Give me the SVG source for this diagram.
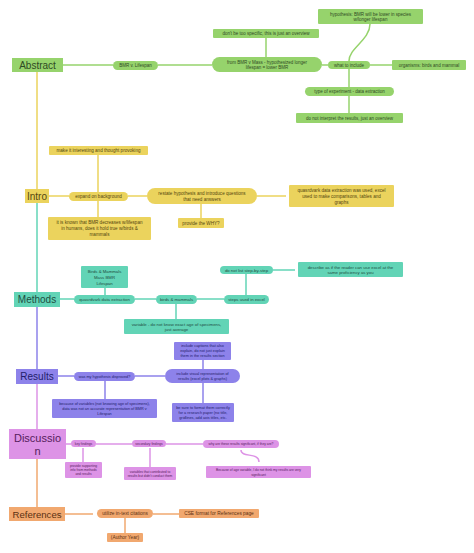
<svg xmlns="http://www.w3.org/2000/svg" width="474" height="553" viewBox="0 0 474 553">
<style>
text{font-family:"Liberation Sans",Arial,sans-serif;text-anchor:middle;dominant-baseline:central}
.m{font-size:10px}
.g text.s{font-size:4.5px}.y text.s{font-size:4.6px}.t text.s{font-size:4.3px}.p text.s{font-size:3.8px}.k text.s{font-size:3.3px}.o text.s{font-size:4.8px}
.g rect{fill:#96d36c}.g text{fill:#2f4a24}
.y rect{fill:#ebd35d}.y text{fill:#54470f}
.t rect{fill:#62d4b6}.t text{fill:#1f4d42}
.p rect{fill:#8d82ea}.p text{fill:#241e6b}
.k rect{fill:#dd93e6}.k text{fill:#55205c}
.o rect{fill:#f1a86f}.o text{fill:#5c3112}
.c line,.c path{stroke-width:1.5;fill:none}
.cg{stroke:#96d36c}.cy{stroke:#ebd35d}.ct{stroke:#62d4b6}.cp{stroke:#8d82ea}.ck{stroke:#dd93e6}.co{stroke:#f1a86f}
</style>
<g id="connectors" class="c">
<line class="cy" x1="37" y1="72" x2="37" y2="189"/>
<line class="ct" x1="37" y1="203" x2="37" y2="292"/>
<line class="cp" x1="37" y1="307" x2="37" y2="369"/>
<line class="ck" x1="37" y1="384" x2="37" y2="429"/>
<line class="co" x1="37" y1="459" x2="37" y2="507"/>
<line class="cg" x1="63" y1="65" x2="113" y2="65"/>
<line class="cg" x1="158" y1="65" x2="212" y2="65"/>
<line class="cg" x1="266" y1="38" x2="266" y2="57"/>
<line class="cg" x1="322" y1="65" x2="328" y2="65"/>
<line class="cg" x1="370" y1="65" x2="392" y2="65"/>
<path class="cg" d="M349 61 C349 48 370 40 370 24"/>
<line class="cg" x1="349" y1="69" x2="349" y2="87"/>
<line class="cg" x1="349" y1="96" x2="349" y2="113"/>
<line class="cy" x1="49" y1="196" x2="69" y2="196"/>
<line class="cy" x1="98" y1="155" x2="98" y2="192"/>
<line class="cy" x1="98" y1="201" x2="98" y2="217"/>
<line class="cy" x1="128" y1="196" x2="147" y2="196"/>
<line class="cy" x1="201" y1="204" x2="201" y2="218"/>
<line class="cy" x1="257" y1="196" x2="286" y2="196"/>
<line class="ct" x1="60" y1="299" x2="74" y2="299"/>
<line class="ct" x1="105" y1="288" x2="105" y2="295"/>
<line class="ct" x1="135" y1="299" x2="156" y2="299"/>
<line class="ct" x1="176" y1="304" x2="176" y2="319"/>
<line class="ct" x1="197" y1="299" x2="224" y2="299"/>
<line class="ct" x1="246" y1="274" x2="246" y2="295"/>
<line class="ct" x1="273" y1="270" x2="295" y2="270"/>
<line class="cp" x1="58" y1="376" x2="74" y2="376"/>
<line class="cp" x1="105" y1="381" x2="105" y2="399"/>
<line class="cp" x1="135" y1="376" x2="165" y2="376"/>
<line class="cp" x1="203" y1="360" x2="203" y2="369"/>
<line class="cp" x1="203" y1="383" x2="203" y2="403"/>
<line class="ck" x1="66" y1="444" x2="71" y2="444"/>
<line class="ck" x1="83" y1="448" x2="83" y2="462"/>
<line class="ck" x1="96" y1="444" x2="132" y2="444"/>
<line class="ck" x1="150" y1="448" x2="150" y2="467"/>
<line class="ck" x1="166" y1="444" x2="203" y2="444"/>
<path class="ck" d="M241 450 C241 458 259 452 259 462"/>
<line class="co" x1="65" y1="514" x2="93" y2="514"/>
<line class="co" x1="153" y1="514" x2="179" y2="514"/>
<line class="co" x1="125" y1="518" x2="125" y2="533"/>
</g>
<g id="abstract" class="g"><rect x="12" y="58" width="51" height="14"/><text class="m" x="37.5" y="65.5">Abstract</text></g>
<g id="bmr-lifespan" class="g"><rect x="113" y="61" width="45" height="9" rx="4.5"/><text class="s" x="135.5" y="65.5">BMR v. Lifespan</text></g>
<g id="bmr-mass" class="g"><rect x="212" y="57" width="110" height="15" rx="7.5"/><text class="s" x="267" y="62">from BMR v Mass - hypothesized longer</text><text class="s" x="267" y="67.5">lifespan = lower BMR</text></g>
<g id="not-specific" class="g"><rect x="213" y="29" width="106" height="9" rx="1"/><text class="s" x="266" y="33.5">don't be too specific, this is just an overview</text></g>
<g id="what-include" class="g"><rect x="328" y="61" width="42" height="8" rx="4"/><text class="s" x="349" y="65">what to include</text></g>
<g id="organisms" class="g"><rect x="392" y="60" width="74" height="10" rx="1"/><text class="s" x="429" y="65">organisms: birds and mammal</text></g>
<g id="hypothesis" class="g"><rect x="318" y="9" width="105" height="15" rx="1"/><text class="s" x="370.5" y="14">hypothesis: BMR will be lower in species</text><text class="s" x="370.5" y="19.5">w/longer lifespan</text></g>
<g id="experiment-type" class="g"><rect x="305" y="87" width="89" height="9" rx="4.5"/><text class="s" x="349.5" y="91.5">type of experiment - data extraction</text></g>
<g id="no-interpret" class="g"><rect x="296" y="113" width="107" height="10" rx="1"/><text class="s" x="349.5" y="118">do not interpret the results, just an overview</text></g>
<g id="intro" class="y"><rect x="25" y="189" width="24" height="14"/><text class="m" x="37" y="196.5">Intro</text></g>
<g id="expand-bg" class="y"><rect x="69" y="192" width="59" height="9" rx="4.5"/><text class="s" x="98.5" y="196.5">expand on background</text></g>
<g id="interesting" class="y"><rect x="49" y="146" width="99" height="9" rx="1"/><text class="s" x="98.5" y="150.5">make it interesting and thought provoking</text></g>
<g id="known-bmr" class="y"><rect x="48" y="217" width="103" height="23" rx="1"/><text class="s" x="99.5" y="222.5">it is known that BMR decreases w/lifespan</text><text class="s" x="99.5" y="228.5">in humans, does it hold true w/birds &amp;</text><text class="s" x="99.5" y="234.5">mammals</text></g>
<g id="restate" class="y"><rect x="147" y="188" width="110" height="16" rx="8"/><text class="s" x="202" y="193.5">restate hypothesis and introduce questions</text><text class="s" x="202" y="199.5">that need answers</text></g>
<g id="why" class="y"><rect x="178" y="218" width="46" height="10" rx="1"/><text class="s" x="201" y="223">provide the WHY?</text></g>
<g id="quasrdvark-intro" class="y"><rect x="289" y="185" width="105" height="22" rx="1"/><text class="s" x="341.5" y="190">quasrdvark data extraction was used, excel</text><text class="s" x="341.5" y="196">used to make comparisons, tables and</text><text class="s" x="341.5" y="202">graphs</text></g>
<g id="methods" class="t"><rect x="14" y="292" width="46" height="15"/><text class="m" x="37" y="299.5">Methods</text></g>
<g id="quasrdvark" class="t"><rect x="74" y="295" width="61" height="9" rx="4.5"/><text class="s" x="104.5" y="299.5">quasrdvark data extraction</text></g>
<g id="birds-list" class="t"><rect x="81" y="266" width="47" height="22" rx="1"/><text class="s" x="104.5" y="271">Birds &amp; Mammals</text><text class="s" x="104.5" y="277">Mass BMR</text><text class="s" x="104.5" y="283">Lifespan</text></g>
<g id="birds-mammals" class="t"><rect x="156" y="295" width="41" height="9" rx="4.5"/><text class="s" x="176.5" y="299.5">birds &amp; mammals</text></g>
<g id="variable-age" class="t"><rect x="124" y="319" width="105" height="15" rx="1"/><text class="s" x="176.5" y="324">variable - do not know exact age of specimens,</text><text class="s" x="176.5" y="329.5">just average</text></g>
<g id="steps-excel" class="t"><rect x="224" y="295" width="45" height="9" rx="4.5"/><text class="s" x="246.5" y="299.5">steps used in excel</text></g>
<g id="no-list" class="t"><rect x="220" y="266" width="53" height="8" rx="4"/><text class="s" x="246.5" y="270">do not list step-by-step</text></g>
<g id="describe" class="t"><rect x="298" y="262" width="105" height="15" rx="1"/><text class="s" x="350.5" y="267">describe as if the reader can use excel at the</text><text class="s" x="350.5" y="272.5">same proficiency as you</text></g>
<g id="results" class="p"><rect x="16" y="369" width="42" height="15"/><text class="m" x="37" y="376.5">Results</text></g>
<g id="disproved" class="p"><rect x="74" y="372" width="61" height="9" rx="4.5"/><text class="s" x="104.5" y="376.5">was my hypothesis disproved?</text></g>
<g id="because-variables" class="p"><rect x="52" y="399" width="105" height="19" rx="1"/><text class="s" x="104.5" y="403.5">because of variables (not knowing age of specimens),</text><text class="s" x="104.5" y="408.5">data was not an accurate representation of BMR v</text><text class="s" x="104.5" y="413.5">Lifespan</text></g>
<g id="visual" class="p"><rect x="165" y="369" width="75" height="14" rx="7"/><text class="s" x="202.5" y="373.5">include visual representation of</text><text class="s" x="202.5" y="378.5">results (excel plots &amp; graphs)</text></g>
<g id="captions" class="p"><rect x="174" y="342" width="57" height="18" rx="1"/><text class="s" x="202.5" y="346">include captions that also</text><text class="s" x="202.5" y="351">explain, do not just explain</text><text class="s" x="202.5" y="356">them in the results section</text></g>
<g id="format" class="p"><rect x="172" y="403" width="62" height="19" rx="1"/><text class="s" x="203" y="407.5">be sure to format them correctly</text><text class="s" x="203" y="412.5">for a research paper (no title,</text><text class="s" x="203" y="417.5">gridlines, add axis titles, etc.</text></g>
<g id="discussion" class="k"><rect x="9" y="429" width="57" height="30"/><text style="font-size:11px" x="37.5" y="437.5">Discussio</text><text style="font-size:11px" x="37.5" y="451">n</text></g>
<g id="key-findings" class="k"><rect x="71" y="440" width="25" height="7" rx="3.5"/><text class="s" x="83.5" y="443.5">key findings</text></g>
<g id="supporting" class="k"><rect x="65" y="462" width="37" height="16" rx="1"/><text class="s" x="83.5" y="466">provide supporting</text><text class="s" x="83.5" y="470">info from methods</text><text class="s" x="83.5" y="474">and results</text></g>
<g id="secondary" class="k"><rect x="132" y="440" width="34" height="7" rx="3.5"/><text class="s" x="149" y="443.5">secondary findings</text></g>
<g id="contributed" class="k"><rect x="124" y="467" width="52" height="13" rx="1"/><text class="s" x="150" y="471.5">variables that contributed to</text><text class="s" x="150" y="475.5">results but didn't conduct them</text></g>
<g id="significant" class="k"><rect x="203" y="440" width="76" height="8" rx="4"/><text class="s" x="241" y="444">why are these results significant, if they are?</text></g>
<g id="age-variable" class="k"><rect x="206" y="466" width="105" height="12" rx="1"/><text class="s" x="258.5" y="470">Because of age variable, I do not think my results are very</text><text class="s" x="258.5" y="474.5">significant</text></g>
<g id="references" class="o"><rect x="9" y="507" width="56" height="14"/><text style="font-size:9.6px" x="37" y="514.5">References</text></g>
<g id="in-text" class="o"><rect x="97" y="509" width="56" height="9" rx="4.5"/><text class="s" x="125" y="513.5">utilize in-text citations</text></g>
<g id="cse" class="o"><rect x="179" y="509" width="80" height="9" rx="1"/><text class="s" x="219" y="513.5">CSE format for References page</text></g>
<g id="author-year" class="o"><rect x="107" y="533" width="36" height="9" rx="1"/><text class="s" x="125" y="537.5">(Author Year)</text></g>
</svg>
